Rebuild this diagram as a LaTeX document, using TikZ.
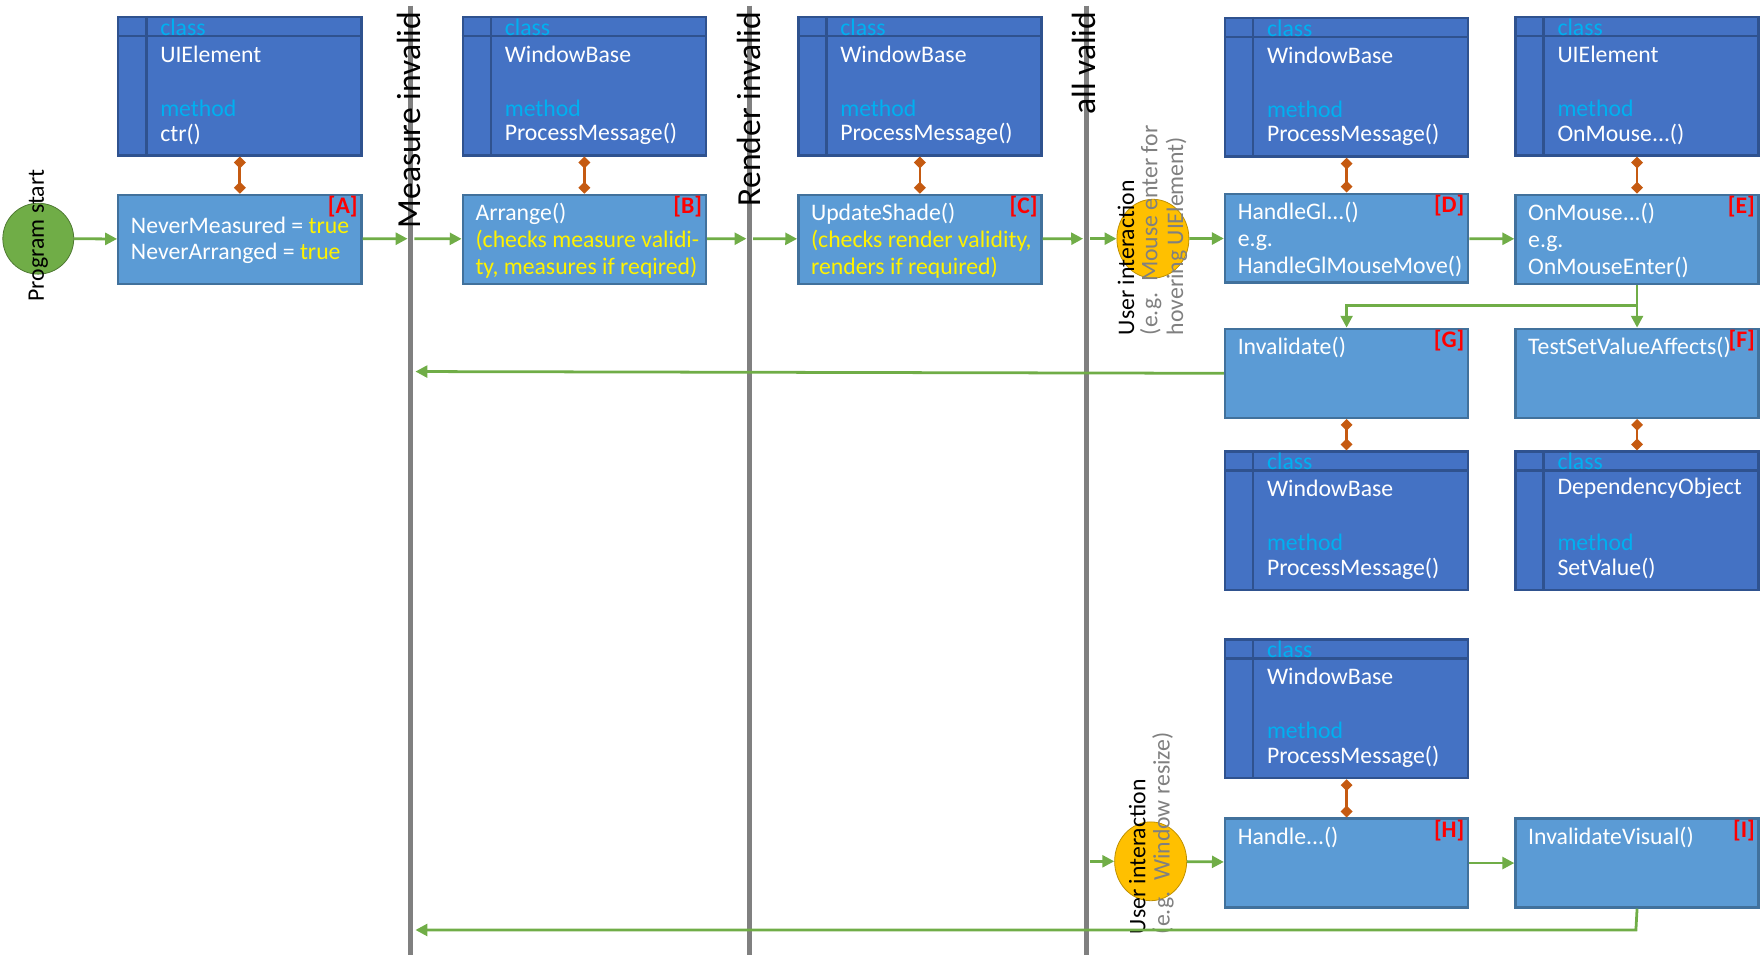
\documentclass[tikz,border=0pt]{standalone}
\usepackage{fontspec}
\setmainfont{Carlito}
\usetikzlibrary{arrows.meta,shapes.geometric}
\definecolor{clsfill}{HTML}{4472C4}
\definecolor{clsdraw}{HTML}{2F528F}
\definecolor{boxfill}{HTML}{5B9BD5}
\definecolor{boxdraw}{HTML}{41719C}
\definecolor{flowgreen}{HTML}{70AD47}
\definecolor{linkorange}{HTML}{C55A11}
\definecolor{keycyan}{HTML}{00B0F0}
\definecolor{uiyellow}{HTML}{FFC000}
\tikzset{
  clsbox/.style={draw=clsdraw, fill=clsfill, line width=1.2pt, minimum width=4.32cm, minimum height=2.46cm, inner sep=0pt, anchor=north west},
  stepbox/.style={draw=boxdraw, fill=boxfill, line width=1.2pt, minimum width=4.32cm, minimum height=1.58cm, inner sep=0pt, anchor=north west},
  txt/.style={text=white, font=\fontsize{12}{13.6}\selectfont, align=left, anchor=north west, inner sep=0pt},
  key/.style={text=keycyan, font=\fontsize{12}{13.6}\selectfont, anchor=west, inner sep=0pt},
  tag/.style={text=red, font=\fontsize{12}{13.6}\selectfont\bfseries, anchor=north east, inner sep=0pt},
  flow/.style={draw=flowgreen, line width=1.4pt, -{Triangle[length=6pt,width=6pt]}},
  link/.style={draw=linkorange, line width=1.4pt, {Diamond[length=6pt,width=6pt]}-{Diamond[length=6pt,width=6pt]}},
  phase/.style={draw=gray, line width=2.5pt},
  phasetxt/.style={rotate=90, anchor=east, font=\fontsize{17}{17}\selectfont, inner sep=0pt},
  side/.style={rotate=90, anchor=west, font=\fontsize{12}{13}\selectfont, inner sep=0pt}
}
% class box: name, left, top, class, method
\newcommand\clsnode[5]{%
  \node[clsbox] (#1) at (#2,#3) {};
  \draw[clsdraw, line width=1.2pt] (#2,#3+18) -- (#2+216,#3+18);
  \draw[clsdraw, line width=1.2pt] (#2+26,#3) -- (#2+26,#3+123);
  \node[key] at (#2+38,#3+10) {class};
  \node[txt, anchor=west] at (#2+38,#3+34) {#4};
  \node[key] at (#2+38,#3+82) {method};
  \node[txt, anchor=west] at (#2+38,#3+105) {#5};
}
% step box: name, left, top, tag, text
\newcommand\stepnode[6][8]{%
  \node[stepbox] (#2) at (#3,#4) {};
  \node[tag] at (#3+214,#4+2) {[#5]};
  \node[txt] at (#3+12,#4+#1) {#6};
}
\begin{document}
\begin{tikzpicture}[x=0.02cm, y=-0.02cm]
  \useasboundingbox (0,0) rectangle (1565,852);

  % phase lines
  \draw[phase] (365,5) -- (365,848);
  \draw[phase] (666,5) -- (666,848);
  \draw[phase] (965,5) -- (965,848);
  \node[phasetxt] at (363,10) {Measure invalid};
  \node[phasetxt] at (665,10) {Render invalid};
  \node[phasetxt] at (963,10) {all valid};

  \node (start) at (34,212) [circle, draw=flowgreen!70!black, fill=flowgreen, minimum size=1.26cm, inner sep=0pt] {};
  \node[side] at (34,268) {Program start};

  % top row
  \clsnode{ca}{104}{14}{UIElement}{ctr()}
  \stepnode[20]{a}{104}{172}{A}{NeverMeasured = \textcolor{yellow}{true}\\NeverArranged = \textcolor{yellow}{true}}
  \clsnode{cb}{410}{14}{WindowBase}{ProcessMessage()}
  \stepnode{b}{410}{172}{B}{Arrange()\\\textcolor{yellow}{(checks measure validi-}\\\textcolor{yellow}{ty, measures if reqired)}}
  \clsnode{cc}{708}{14}{WindowBase}{ProcessMessage()}
  \stepnode{c}{708}{172}{C}{UpdateShade()\\\textcolor{yellow}{(checks render validity,}\\\textcolor{yellow}{renders if required)}}
  \clsnode{cd}{1087}{15}{WindowBase}{ProcessMessage()}
  \stepnode{d}{1087}{171}{D}{HandleGl...()\\e.g.\\HandleGlMouseMove()}
  \clsnode{ce}{1345}{14}{UIElement}{OnMouse...()}
  \stepnode{e}{1345}{172}{E}{OnMouse...()\\e.g.\\OnMouseEnter()}

  % middle row
  \stepnode{g}{1087}{291}{G}{Invalidate()}
  \clsnode{cg}{1087}{400}{WindowBase}{ProcessMessage()}
  \stepnode{f}{1345}{291}{F}{TestSetValueAffects()}
  \clsnode{cf}{1345}{400}{DependencyObject}{SetValue()}

  % bottom row
  \clsnode{ch}{1087}{567}{WindowBase}{ProcessMessage()}
  \stepnode{h}{1087}{726}{H}{Handle...()}
  \stepnode{i}{1345}{726}{I}{InvalidateVisual()}

  % user interactions
  \node (ui1) at (1024,212) [ellipse, draw=uiyellow!75!black, fill=uiyellow, minimum width=1.28cm, minimum height=1.4cm, inner sep=0pt] {};
  \node[side] at (1000,298) {User interaction};
  \node[side, text=gray] at (1022,298) {(e.g.~~Mouse enter for};
  \node[side, text=gray] at (1045,298) {hovering UIElement)};
  \node (ui2) at (1022,765) [ellipse, draw=uiyellow!75!black, fill=uiyellow, minimum width=1.28cm, minimum height=1.4cm, inner sep=0pt] {};
  \node[side] at (1010,830) {User interaction};
  \node[side, text=gray] at (1033,830) {(e.g.~~Window resize)};

  \coordinate (m1a) at (362,212);
  \coordinate (m1b) at (368,212);
  \coordinate (m2a) at (663,212);
  \coordinate (m2b) at (669,212);
  \coordinate (m3a) at (962,212);
  \coordinate (m3b) at (968,212);
  \coordinate (m3c) at (968,765);
  \coordinate (back1) at (369,330);
  \coordinate (back2) at (369,826);
  \coordinate (split) at (1453,271);
  \coordinate (turn) at (1453,826);

  % flow
  \draw[flow] (start) -- (a);
  \draw[flow] (a) -- (m1a);
  \draw[flow] (m1b) -- (b);
  \draw[flow] (b) -- (m2a);
  \draw[flow] (m2b) -- (c);
  \draw[flow] (c) -- (m3a);
  \draw[flow] (m3b) -- (ui1);
  \draw[flow] (ui1) -- (d);
  \draw[flow] (d) -- (e);
  \draw[flow] (e.south) -- (f.north);
  \draw[flow] (split) -| (g.north);
  \draw[flow] (g.west) -- (back1);
  \draw[flow] (m3c) -- (ui2);
  \draw[flow] (ui2) -- (h);
  \draw[flow] (h) -- (i);
  \draw[flow] (i.south) -- (turn) -- (back2);

  % links
  \draw[link] (ca.south) -- (a.north);
  \draw[link] (cb.south) -- (b.north);
  \draw[link] (cc.south) -- (c.north);
  \draw[link] (cd.south) -- (d.north);
  \draw[link] (ce.south) -- (e.north);
  \draw[link] (g.south) -- (cg.north);
  \draw[link] (f.south) -- (cf.north);
  \draw[link] (ch.south) -- (h.north);
\end{tikzpicture}
\end{document}
